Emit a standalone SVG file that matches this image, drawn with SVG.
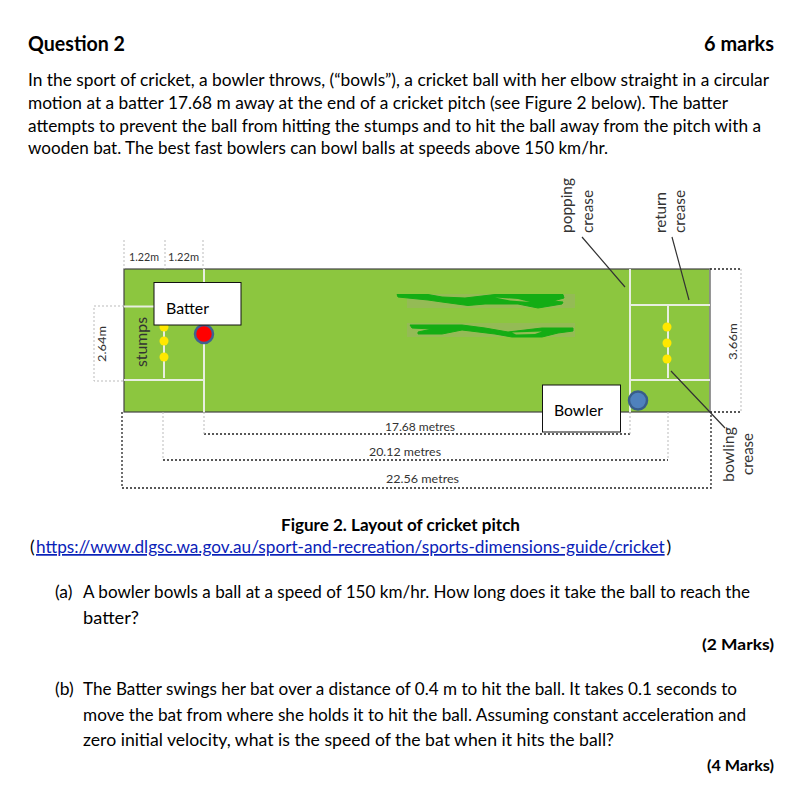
<svg xmlns="http://www.w3.org/2000/svg" width="807" height="795" viewBox="0 0 807 795">
<style>
text{font-family:Lato,"Liberation Sans",sans-serif;fill:#000}
.b{font-size:17.500px}
.h{font-size:20px;font-weight:700}
.m{font-size:15.500px;font-weight:700}
.s{font-size:12px;fill:#333}
.r{font-size:15px;fill:#333}
.cr{stroke:#e8eee0;stroke-width:2;fill:none}
.dot{stroke:#222;stroke-width:1.300;stroke-dasharray:2 2;fill:none}
.thin{stroke:#bbb;stroke-width:1;stroke-dasharray:2 2;fill:none}
.lead{stroke:#333;stroke-width:1.200;fill:none}
.y{fill:#ffe800}
.sm{fill:#14ad14;stroke:#14ad14;stroke-width:1;stroke-linejoin:round}
.box{fill:#fff;stroke:#111;stroke-width:1}
.band{fill:#94bb55}
</style>
<rect width="807" height="795" fill="#fff"/>
<text class="h" x="28" y="51" textLength="97" lengthAdjust="spacingAndGlyphs">Question 2</text>
<text class="h" x="704" y="51" textLength="70" lengthAdjust="spacingAndGlyphs">6 marks</text>
<text class="b" x="28" y="86" textLength="741" lengthAdjust="spacingAndGlyphs">In the sport of cricket, a bowler throws, (“bowls”), a cricket ball with her elbow straight in a circular</text>
<text class="b" x="28" y="109" textLength="700" lengthAdjust="spacingAndGlyphs">motion at a batter 17.68 m away at the end of a cricket pitch (see Figure 2 below).  The batter</text>
<text class="b" x="28" y="132" textLength="733" lengthAdjust="spacingAndGlyphs">attempts to prevent the ball from hitting the stumps and to hit the ball away from the pitch with a</text>
<text class="b" x="28" y="154" textLength="580" lengthAdjust="spacingAndGlyphs">wooden bat. The best fast bowlers can bowl balls at speeds above 150 km/hr.</text>

<g id="pitch">
<rect x="124" y="269" width="586" height="143" fill="#8cc63f" stroke="#444" stroke-width="1.200"/>
<path d="M710 269V412" stroke="#999" stroke-width="1.500"/>
<path class="cr" d="M204 269V412M124 306.500H204M124 380H204M164 306.500V378"/>
<path class="cr" d="M630 269V412M630 305H710M630 380H710M668 306V378"/>
<rect class="band" x="407" y="294" width="168" height="14"/>
<rect class="band" x="407" y="323" width="168" height="14"/>
<path class="sm" d="M397 294.500L428 294.500L442 297L465 298L495 294.500L563 294.500L564 298L553 301L563 302L562 304L538 308L518 304L485 304L468 305.500L442 302L428 300L398 297Z"/>
<path class="band" d="M495 297.500L518 299L530 302L510 300.500Z"/>
<path class="sm" d="M410 325L462 325L485 328L508 332L542 328L573 328L573 331L558 333L542 337L512 337L495 334L462 330L442 334L418 334L418 332L432 329L412 328Z"/>
<path class="band" d="M512 332.500L542 331.500L535 334L516 334.500Z"/>
</g>

<g id="connectors">
<path class="thin" d="M124 240V269M165 240V269M203 240V269M124 306H94V381H124"/>
<path class="dot" d="M122 412V488H711V412M204 434H630M163 460H668"/>
<path class="thin" d="M204 412V434M163 412V460M630 412V434M668 412V460"/>
<path class="dot" d="M710 269H741M710 412H741"/>
<path class="thin" d="M741 269V412"/>
<path class="lead" d="M582 237L625 287M672 237L689 300M671 371L725 428"/>
</g>

<g id="labels">
<text class="s" x="129" y="261" textLength="30" lengthAdjust="spacingAndGlyphs">1.22m</text>
<text class="s" x="168" y="261" textLength="31" lengthAdjust="spacingAndGlyphs">1.22m</text>
<text class="s" transform="translate(105.500 362) rotate(-90)" textLength="36" lengthAdjust="spacingAndGlyphs">2.64m</text>
<text class="r" transform="translate(147 367) rotate(-90)" textLength="50" lengthAdjust="spacingAndGlyphs">stumps</text>
<text class="s" x="385" y="431" textLength="70" lengthAdjust="spacingAndGlyphs">17.68 metres</text>
<text class="s" x="369" y="456" textLength="72" lengthAdjust="spacingAndGlyphs">20.12 metres</text>
<text class="s" x="386" y="483" textLength="73" lengthAdjust="spacingAndGlyphs">22.56 metres</text>
<text class="r" transform="translate(572 233) rotate(-90)" textLength="55" lengthAdjust="spacingAndGlyphs">popping</text>
<text class="r" transform="translate(592.500 233) rotate(-90)" textLength="43" lengthAdjust="spacingAndGlyphs">crease</text>
<text class="r" transform="translate(665.500 233) rotate(-90)" textLength="41" lengthAdjust="spacingAndGlyphs">return</text>
<text class="r" transform="translate(684.500 233) rotate(-90)" textLength="43" lengthAdjust="spacingAndGlyphs">crease</text>
<text class="s" transform="translate(737 360) rotate(-90)" textLength="37" lengthAdjust="spacingAndGlyphs">3.66m</text>
<text class="r" transform="translate(734 482) rotate(-90)" textLength="55" lengthAdjust="spacingAndGlyphs">bowling</text>
<text class="r" transform="translate(752.500 475) rotate(-90)" textLength="42" lengthAdjust="spacingAndGlyphs">crease</text>
</g>

<g id="stumps-left"><circle class="y" cx="164" cy="327" r="4.500"/><circle class="y" cx="164" cy="341" r="4.500"/><circle class="y" cx="164" cy="357" r="4.500"/></g>
<g id="stumps-right"><circle class="y" cx="667" cy="327" r="4.500"/><circle class="y" cx="667" cy="343" r="4.500"/><circle class="y" cx="667" cy="359" r="4.500"/></g>
<g id="ball-batter"><circle cx="204" cy="334" r="9" fill="#ff0000" stroke="#41608f" stroke-width="2.500"/></g>
<g id="ball-bowler"><circle cx="638" cy="400.500" r="9" fill="#4f81bd" stroke="#385d8a" stroke-width="2.500"/></g>
<g id="batter"><rect class="box" x="154" y="282.500" width="87" height="42.500"/><text x="166" y="314" font-size="15" textLength="43" lengthAdjust="spacingAndGlyphs">Batter</text></g>
<g id="bowler"><rect class="box" x="542.500" y="385" width="78" height="47"/><text x="554" y="416" font-size="15" textLength="49" lengthAdjust="spacingAndGlyphs">Bowler</text></g>

<text x="281" y="531" font-size="17" font-weight="700" textLength="239" lengthAdjust="spacingAndGlyphs">Figure 2. Layout of cricket pitch</text>
<text class="b" x="30" y="553">(</text>
<text x="36" y="553" font-size="17.200" style="fill:#0a22b8" text-decoration="underline">https://www.dlgsc.wa.gov.au/sport-and-recreation/sports-dimensions-guide/cricket</text>
<text class="b" x="666.500" y="553">)</text>
<text class="b" x="55" y="598">(a)</text>
<text class="b" x="83" y="598" textLength="667" lengthAdjust="spacingAndGlyphs">A bowler bowls a ball at a speed of 150 km/hr. How long does it take the ball to reach the</text>
<text class="b" x="83" y="624" textLength="56" lengthAdjust="spacingAndGlyphs">batter?</text>
<text class="m" x="702" y="650" textLength="72" lengthAdjust="spacingAndGlyphs">(2 Marks)</text>
<text class="b" x="55" y="695">(b)</text>
<text class="b" x="83" y="695" textLength="654" lengthAdjust="spacingAndGlyphs">The Batter swings her bat over a distance of 0.4 m to hit the ball. It takes 0.1 seconds to</text>
<text class="b" x="83" y="721" textLength="663" lengthAdjust="spacingAndGlyphs">move the bat from where she holds it to hit the ball. Assuming constant acceleration and</text>
<text class="b" x="83" y="746" textLength="531" lengthAdjust="spacingAndGlyphs">zero initial velocity, what is the speed of the bat when it hits the ball?</text>
<text class="m" x="707" y="771" textLength="67" lengthAdjust="spacingAndGlyphs">(4 Marks)</text>
</svg>
